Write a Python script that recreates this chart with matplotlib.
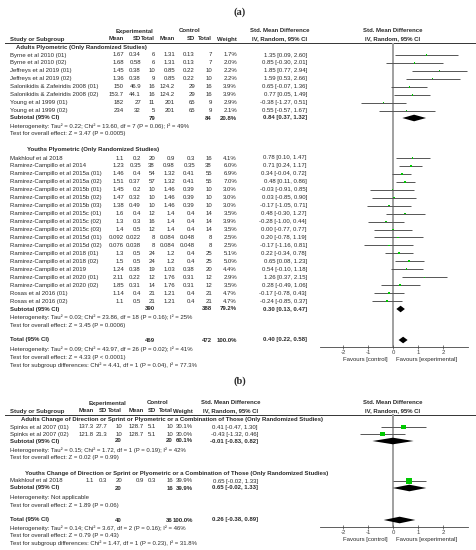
import matplotlib
matplotlib.use("Agg")
import matplotlib.pyplot as plt

W, H = 477, 550
FONT = "Liberation Sans"
FS = 4.3
TXT = "#2a2a2a"
GREEN = "#00c800"

# ---------------- panel (a) data ----------------
a_adult_names = ["Byrne et al 2010 (01)", "Byrne et al 2010 (02)",
                 "Jeffreys et al 2019 (01)", "Jeffreys et al 2019 (02)",
                 "Salonikidis & Zafeiridis 2008 (01)", "Salonikidis & Zafeiridis 2008 (02)",
                 "Young et al 1999 (01)", "Young et al 1999 (02)"]
a_adult_exp_mean = [1.67, 1.68, 1.45, 1.36, 150, 153.7, 182, 234]
a_adult_exp_sd = [0.34, 0.58, 0.38, 0.38, 46.9, 44.1, 27, 32]
a_adult_exp_n = [6, 6, 10, 9, 16, 16, 11, 5]
a_adult_ctl_mean = [1.31, 1.31, 0.85, 0.85, 124.2, 124.2, 201, 201]
a_adult_ctl_sd = [0.13, 0.13, 0.22, 0.22, 29, 29, 65, 65]
a_adult_ctl_n = [7, 7, 10, 10, 16, 16, 9, 9]
a_adult_weight = [1.7, 2.0, 2.2, 2.2, 3.9, 3.9, 2.9, 2.1]
a_adult_smd = [1.35, 0.85, 1.85, 1.59, 0.65, 0.77, -0.38, 0.55]
a_adult_lo = [0.09, -0.30, 0.77, 0.53, -0.07, 0.05, -1.27, -0.57]
a_adult_hi = [2.60, 2.01, 2.94, 2.66, 1.36, 1.49, 0.51, 1.67]
a_adult_sub = (79, 84, 20.8, 0.84, 0.37, 1.32)
a_adult_het = "Heterogeneity: Tau² = 0.22; Chi² = 13.60, df = 7 (P = 0.06); I² = 49%"
a_adult_z = "Test for overall effect: Z = 3.47 (P = 0.0005)"

a_youth_names = ["Makhlouf et al 2018", "Ramirez-Campillo et al 2014",
                 "Ramirez-Campillo et al 2015a (01)", "Ramirez-Campillo et al 2015a (02)",
                 "Ramirez-Campillo et al 2015b (01)", "Ramirez-Campillo et al 2015b (02)",
                 "Ramirez-Campillo et al 2015b (03)", "Ramirez-Campillo et al 2015c (01)",
                 "Ramirez-Campillo et al 2015c (02)", "Ramirez-Campillo et al 2015c (03)",
                 "Ramirez-Campillo et al 2015d (01)", "Ramirez-Campillo et al 2015d (02)",
                 "Ramirez-Campillo et al 2018 (01)", "Ramirez-Campillo et al 2018 (02)",
                 "Ramirez-Campillo et al 2019", "Ramirez-Campillo et al 2020 (01)",
                 "Ramirez-Campillo et al 2020 (02)", "Rosas et al 2016 (01)",
                 "Rosas et al 2016 (02)"]
a_youth_exp_mean = [1.1, 1.23, 1.46, 1.51, 1.45, 1.47, 1.38, 1.6, 1.3, 1.4,
                    0.092, 0.076, 1.3, 1.5, 1.24, 2.11, 1.85, 1.14, 1.1]
a_youth_exp_sd = [0.2, 0.35, 0.4, 0.37, 0.2, 0.32, 0.49, 0.4, 0.3, 0.5,
                  0.022, 0.038, 0.5, 0.5, 0.38, 0.22, 0.31, 0.4, 0.5]
a_youth_exp_n = [20, 38, 54, 57, 10, 10, 10, 12, 16, 12, 8, 8, 24, 24, 19, 12, 14, 21, 21]
a_youth_ctl_mean = [0.9, 0.98, 1.32, 1.32, 1.46, 1.46, 1.46, 1.4, 1.4, 1.4,
                    0.084, 0.084, 1.2, 1.2, 1.03, 1.76, 1.76, 1.21, 1.21]
a_youth_ctl_sd = [0.3, 0.35, 0.41, 0.41, 0.39, 0.39, 0.39, 0.4, 0.4, 0.4,
                  0.048, 0.048, 0.4, 0.4, 0.38, 0.31, 0.31, 0.4, 0.4]
a_youth_ctl_n = [16, 38, 55, 55, 10, 10, 10, 14, 14, 14, 8, 8, 25, 25, 20, 12, 12, 21, 21]
a_youth_weight = [4.1, 6.0, 6.9, 7.0, 3.0, 3.0, 3.0, 3.5, 3.9, 3.5,
                  2.5, 2.5, 5.1, 5.0, 4.4, 2.9, 3.5, 4.7, 4.7]
a_youth_smd = [0.78, 0.71, 0.34, 0.48, -0.03, 0.03, -0.17, 0.48, -0.28, 0.00,
               0.20, -0.17, 0.22, 0.65, 0.54, 1.26, 0.28, -0.17, -0.24]
a_youth_lo = [0.10, 0.24, -0.04, 0.11, -0.91, -0.85, -1.05, -0.30, -1.00, -0.77,
              -0.78, -1.16, -0.34, 0.08, -0.10, 0.37, -0.49, -0.78, -0.85]
a_youth_hi = [1.47, 1.17, 0.72, 0.86, 0.85, 0.90, 0.71, 1.27, 0.44, 0.77,
              1.19, 0.81, 0.78, 1.23, 1.18, 2.15, 1.06, 0.43, 0.37]
a_youth_sub = (390, 388, 79.2, 0.30, 0.13, 0.47)
a_youth_het = "Heterogeneity: Tau² = 0.03; Chi² = 23.86, df = 18 (P = 0.16); I² = 25%"
a_youth_z = "Test for overall effect: Z = 3.45 (P = 0.0006)"

a_total = (469, 472, 100.0, 0.40, 0.22, 0.58)
a_total_notes = ["Heterogeneity: Tau² = 0.09; Chi² = 43.97, df = 26 (P = 0.02); I² = 41%",
                 "Test for overall effect: Z = 4.33 (P < 0.0001)",
                 "Test for subgroup differences: Chi² = 4.41, df = 1 (P = 0.04), I² = 77.3%"]

# ---------------- panel (b) data ----------------
b_adult_names = ["Spinks et al 2007 (01)", "Spinks et al 2007 (02)"]
b_adult_exp_mean = [137.3, 121.8]
b_adult_exp_sd = [27.7, 21.3]
b_adult_exp_n = [10, 10]
b_adult_ctl_mean = [128.7, 128.7]
b_adult_ctl_sd = [5.1, 5.1]
b_adult_ctl_n = [10, 10]
b_adult_weight = [30.1, 30.0]
b_adult_smd = [0.41, -0.43]
b_adult_lo = [-0.47, -1.32]
b_adult_hi = [1.30, 0.46]
b_adult_sub = (20, 20, 60.1, -0.01, -0.83, 0.82)
b_adult_het = "Heterogeneity: Tau² = 0.15; Chi² = 1.72, df = 1 (P = 0.19); I² = 42%"
b_adult_z = "Test for overall effect: Z = 0.02 (P = 0.99)"

b_youth_names = ["Makhlouf et al 2018"]
b_youth_exp_mean = [1.1]
b_youth_exp_sd = [0.3]
b_youth_exp_n = [20]
b_youth_ctl_mean = [0.9]
b_youth_ctl_sd = [0.3]
b_youth_ctl_n = [16]
b_youth_weight = [39.9]
b_youth_smd = [0.65]
b_youth_lo = [-0.02]
b_youth_hi = [1.33]
b_youth_sub = (20, 16, 39.9, 0.65, -0.02, 1.33)
b_youth_het = "Heterogeneity: Not applicable"
b_youth_z = "Test for overall effect: Z = 1.89 (P = 0.06)"

b_total = (40, 36, 100.0, 0.26, -0.38, 0.89)
b_total_notes = ["Heterogeneity: Tau² = 0.14; Chi² = 3.67, df = 2 (P = 0.16); I² = 46%",
                 "Test for overall effect: Z = 0.79 (P = 0.43)",
                 "Test for subgroup differences: Chi² = 1.47, df = 1 (P = 0.23), I² = 31.8%"]

xticks = [-2, -1, 0, 1, 2]
XLIM = (-2.93, 3.0)


def num(v):
    return f"{v:g}"


def ci_text(e, lo, hi):
    return f"{e:.2f} [{lo:.2f}, {hi:.2f}]"


def put(ax, x, y, s, ha="left", bold=False, size=FS, family=FONT):
    ax.text(x, y, s, ha=ha, va="center", fontsize=size, color=TXT,
            fontweight="bold" if bold else "normal", family=family)


def forest_axes(fig, top, bottom):
    ax = fig.add_axes([320 / W, (H - bottom) / H, 148 / W, (bottom - top) / H])
    ax.set_xlim(*XLIM)
    ax.set_ylim(bottom, top)
    ax.patch.set_alpha(0)
    for side in ["top", "left", "right"]:
        ax.spines[side].set_visible(False)
    ax.spines["bottom"].set_color("#444444")
    ax.spines["bottom"].set_linewidth(0.6)
    ax.set_yticks([])
    ax.set_xticks(xticks)
    ax.set_xticklabels([str(t) for t in xticks], family=FONT)
    ax.tick_params(axis="x", direction="inout", length=3, width=0.5,
                   colors="#444444", labelsize=FS, pad=1)
    ax.axvline(0, color="#a0a0a0", lw=1.4, zorder=0)
    return ax


def header(bg, y1, cols, exp_c, ctl_c, ci_c, fx):
    put(bg, exp_c, y1, "Experimental", ha="center", bold=True)
    put(bg, ctl_c, y1, "Control", ha="center", bold=True)
    put(bg, ci_c, y1, "Std. Mean Difference", ha="center", bold=True)
    put(bg, fx, y1, "Std. Mean Difference", ha="center", bold=True)
    y2 = y1 + 8
    put(bg, 10, y2, "Study or Subgroup", bold=True)
    for x, s in zip(cols, ["Mean", "SD", "Total", "Mean", "SD", "Total", "Weight"]):
        put(bg, x, y2, s, ha="right", bold=True)
    put(bg, ci_c, y2, "IV, Random, 95% CI", ha="center", bold=True)
    put(bg, fx, y2, "IV, Random, 95% CI", ha="center", bold=True)
    bg.plot([5, 476], [y2 + 3.5, y2 + 3.5], color="#333333", lw=0.7)


def studies(bg, ax, ys, cols, ci_x, names, em, es, en, cm, cs, cn, w, smd, lo, hi):
    for i, y in enumerate(ys):
        put(bg, 10, y, names[i])
        vals = [num(em[i]), num(es[i]), str(en[i]), num(cm[i]), num(cs[i]),
                str(cn[i]), f"{w[i]:.1f}%"]
        for x, s in zip(cols, vals):
            put(bg, x, y, s, ha="right")
        put(bg, ci_x, y, ci_text(smd[i], lo[i], hi[i]), ha="right")
    ax.hlines(ys, lo, hi, color="#555555", lw=0.7, zorder=2)
    ax.scatter(smd, ys, marker="s", s=[0.33 * v for v in w], color=GREEN,
               linewidths=0, zorder=3)


def summary(bg, ax, y, cols, ci_x, label, vals):
    n_e, n_c, w, e, lo, hi = vals
    put(bg, 10, y, label, bold=True)
    put(bg, cols[2], y, str(n_e), ha="right", bold=True)
    put(bg, cols[5], y, str(n_c), ha="right", bold=True)
    put(bg, cols[6], y, f"{w:.1f}%", ha="right", bold=True)
    put(bg, ci_x, y, ci_text(e, lo, hi), ha="right", bold=True)
    h = 3.3
    ax.fill([lo, e, hi, e], [y, y - h, y, y + h], color="black", lw=0, zorder=4)


fig = plt.figure(figsize=(W / 100, H / 100), dpi=100)
bg = fig.add_axes([0, 0, 1, 1])
bg.set_xlim(0, W)
bg.set_ylim(H, 0)
bg.axis("off")

FX = 393  # centre of the forest column headers
STEP = 7.95

# ---------- (a) ----------
put(bg, 240, 12, "(a)", ha="center", bold=True, size=7.5, family="Liberation Serif")
A_COLS = [124, 141, 155, 175, 195, 212, 237]
A_CI = 307
header(bg, 31, A_COLS, 135, 190, 280, FX)
axa = forest_axes(fig, 42.5, 347)

put(bg, 16, 48, "Adults Plyometric (Only Randomized Studies)", bold=True)
ys = [55 + STEP * i for i in range(len(a_adult_names))]
studies(bg, axa, ys, A_COLS, A_CI, a_adult_names, a_adult_exp_mean, a_adult_exp_sd,
        a_adult_exp_n, a_adult_ctl_mean, a_adult_ctl_sd, a_adult_ctl_n,
        a_adult_weight, a_adult_smd, a_adult_lo, a_adult_hi)
summary(bg, axa, 118, A_COLS, A_CI, "Subtotal (95% CI)", a_adult_sub)
put(bg, 10, 126, a_adult_het)
put(bg, 10, 134, a_adult_z)

put(bg, 27, 150, "Youths Plyometric (Only Randomized Studies)", bold=True)
ys = [158 + STEP * i for i in range(len(a_youth_names))]
studies(bg, axa, ys, A_COLS, A_CI, a_youth_names, a_youth_exp_mean, a_youth_exp_sd,
        a_youth_exp_n, a_youth_ctl_mean, a_youth_ctl_sd, a_youth_ctl_n,
        a_youth_weight, a_youth_smd, a_youth_lo, a_youth_hi)
summary(bg, axa, 309, A_COLS, A_CI, "Subtotal (95% CI)", a_youth_sub)
put(bg, 10, 317, a_youth_het)
put(bg, 10, 325, a_youth_z)

summary(bg, axa, 340, A_COLS, A_CI, "Total (95% CI)", a_total)
for i, s in enumerate(a_total_notes):
    put(bg, 10, 349 + 8 * i, s)
put(bg, 388, 360, "Favours [control]", ha="right")
put(bg, 396, 360, "Favours [experimental]")

# ---------- (b) ----------
put(bg, 240, 381, "(b)", ha="center", bold=True, size=7.5, family="Liberation Serif")
B_COLS = [94, 107, 122, 144, 156, 173, 193]
B_CI = 258
header(bg, 403, B_COLS, 108, 158, 231, FX)
axb = forest_axes(fig, 414, 527)

put(bg, 21, 419, "Adults Change of Direction or Sprint or Plyometric or a Combination "
                 "of Those (Only Randomized Studies)", bold=True)
ys = [427 + 7.3 * i for i in range(len(b_adult_names))]
studies(bg, axb, ys, B_COLS, B_CI, b_adult_names, b_adult_exp_mean, b_adult_exp_sd,
        b_adult_exp_n, b_adult_ctl_mean, b_adult_ctl_sd, b_adult_ctl_n,
        b_adult_weight, b_adult_smd, b_adult_lo, b_adult_hi)
summary(bg, axb, 441, B_COLS, B_CI, "Subtotal (95% CI)", b_adult_sub)
put(bg, 10, 450, b_adult_het)
put(bg, 10, 458, b_adult_z)

put(bg, 25, 473, "Youths Change of Direction or Sprint or Plyometric or a Combination "
                 "of Those (Only Randomized Studies)", bold=True)
ys = [481 + 7.3 * i for i in range(len(b_youth_names))]
studies(bg, axb, ys, B_COLS, B_CI, b_youth_names, b_youth_exp_mean, b_youth_exp_sd,
        b_youth_exp_n, b_youth_ctl_mean, b_youth_ctl_sd, b_youth_ctl_n,
        b_youth_weight, b_youth_smd, b_youth_lo, b_youth_hi)
summary(bg, axb, 488, B_COLS, B_CI, "Subtotal (95% CI)", b_youth_sub)
put(bg, 10, 497, b_youth_het)
put(bg, 10, 505, b_youth_z)

summary(bg, axb, 520, B_COLS, B_CI, "Total (95% CI)", b_total)
for i, s in enumerate(b_total_notes):
    put(bg, 10, 528 + 7.6 * i, s)
put(bg, 388, 540, "Favours [control]", ha="right")
put(bg, 396, 540, "Favours [experimental]")

fig.savefig("out.png", dpi=100)
